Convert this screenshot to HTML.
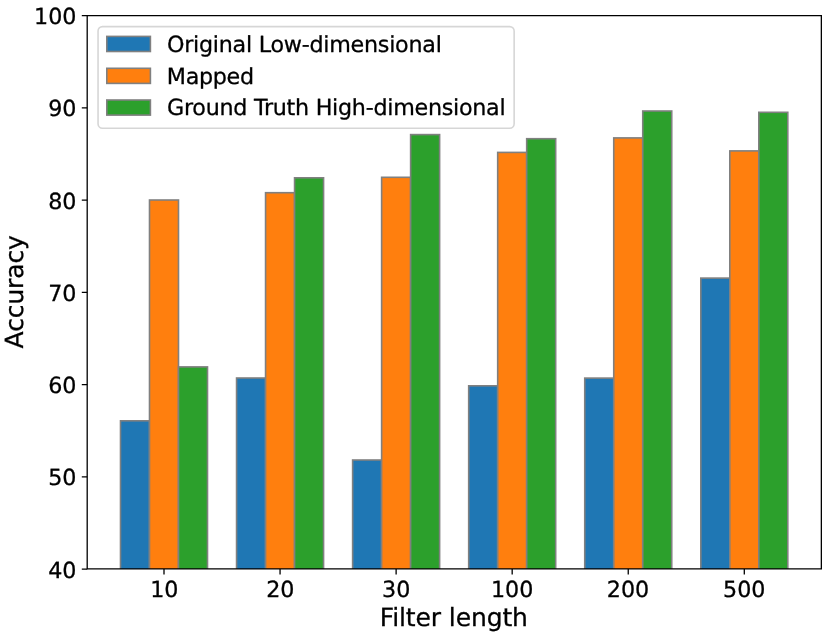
<!DOCTYPE html><html><head><meta charset="utf-8"><title>Accuracy vs Filter length</title><style>html,body{margin:0;padding:0;background:#fff;width:831px;height:636px;overflow:hidden}svg{display:block}text{font-family:'DejaVu Sans','Liberation Sans',sans-serif;fill:#000;text-rendering:geometricPrecision;stroke:#000;stroke-width:0.3px;}</style></head><body>
<svg width="831" height="636" viewBox="0 0 831 636">
<rect x="0" y="0" width="831" height="636" fill="#fff"/>
<defs><clipPath id="ax"><rect x="87.2" y="15.6" width="734.15" height="553.35"/></clipPath></defs>
<g clip-path="url(#ax)" stroke="#808080" stroke-width="1.6" stroke-linejoin="miter">
<rect x="120.50" y="420.80" width="29.00" height="158.15" fill="#1f77b4"/>
<rect x="236.56" y="378.00" width="29.00" height="200.95" fill="#1f77b4"/>
<rect x="352.62" y="460.00" width="29.00" height="118.95" fill="#1f77b4"/>
<rect x="468.68" y="385.80" width="29.00" height="193.15" fill="#1f77b4"/>
<rect x="584.74" y="378.10" width="29.00" height="200.85" fill="#1f77b4"/>
<rect x="700.80" y="278.10" width="29.00" height="300.85" fill="#1f77b4"/>
<rect x="149.50" y="200.00" width="29.00" height="378.95" fill="#ff7f0e"/>
<rect x="265.56" y="192.70" width="29.00" height="386.25" fill="#ff7f0e"/>
<rect x="381.62" y="177.30" width="29.00" height="401.65" fill="#ff7f0e"/>
<rect x="497.68" y="152.40" width="29.00" height="426.55" fill="#ff7f0e"/>
<rect x="613.74" y="137.90" width="29.00" height="441.05" fill="#ff7f0e"/>
<rect x="729.80" y="150.90" width="29.00" height="428.05" fill="#ff7f0e"/>
<rect x="178.50" y="366.90" width="29.00" height="212.05" fill="#2ca02c"/>
<rect x="294.56" y="177.80" width="29.00" height="401.15" fill="#2ca02c"/>
<rect x="410.62" y="134.60" width="29.00" height="444.35" fill="#2ca02c"/>
<rect x="526.68" y="138.70" width="29.00" height="440.25" fill="#2ca02c"/>
<rect x="642.74" y="111.00" width="29.00" height="467.95" fill="#2ca02c"/>
<rect x="758.80" y="112.30" width="29.00" height="466.65" fill="#2ca02c"/>
</g>
<g stroke="#000" stroke-width="1.3" fill="none" stroke-linecap="square">
<path d="M87.2 568.95V15.6M821.35 568.95V15.6M87.2 568.95H821.35M87.2 15.6H821.35"/>
<path stroke-linecap="butt" d="M81.8 569.05H87.2M81.8 476.80H87.2M81.8 384.55H87.2M81.8 292.30H87.2M81.8 200.05H87.2M81.8 107.80H87.2M81.8 15.55H87.2M164.00 568.95V574.4M280.06 568.95V574.4M396.12 568.95V574.4M512.18 568.95V574.4M628.24 568.95V574.4M744.30 568.95V574.4"/>
</g>
<rect x="98.05" y="26.6" width="416.1" height="101.7" rx="4.44" ry="4.44" fill="#fff" fill-opacity="0.8" stroke="#ccc" stroke-opacity="0.8" stroke-width="1.6"/>
<rect x="106.8" y="36.40" width="43.6" height="15.1" fill="#1f77b4" stroke="#808080" stroke-width="1.6"/>
<rect x="106.8" y="68.30" width="43.6" height="15.1" fill="#ff7f0e" stroke="#808080" stroke-width="1.6"/>
<rect x="106.8" y="100.00" width="43.6" height="15.1" fill="#2ca02c" stroke="#808080" stroke-width="1.6"/>
<text id="y40" font-size="22.222px" text-anchor="end" x="76.5" y="577.5">40</text>
<text id="y50" font-size="22.222px" text-anchor="end" x="76.5" y="485.25">50</text>
<text id="y60" font-size="22.222px" text-anchor="end" x="76.5" y="393.0">60</text>
<text id="y70" font-size="22.222px" text-anchor="end" x="76.5" y="300.75">70</text>
<text id="y80" font-size="22.222px" text-anchor="end" x="76.5" y="208.5">80</text>
<text id="y90" font-size="22.222px" text-anchor="end" x="76.5" y="116.25">90</text>
<text id="y100" font-size="22.222px" text-anchor="end" x="76.5" y="24.0">100</text>
<text id="x10" font-size="22.222px" text-anchor="middle" x="164.268" y="596.6">10</text>
<text id="x20" font-size="22.222px" text-anchor="middle" x="280.367" y="596.6">20</text>
<text id="x30" font-size="22.222px" text-anchor="middle" x="396.252" y="596.6">30</text>
<text id="x100" font-size="22.222px" text-anchor="middle" x="512.192" y="596.6">100</text>
<text id="x200" font-size="22.222px" text-anchor="middle" x="628.058" y="596.6">200</text>
<text id="x500" font-size="22.222px" text-anchor="middle" x="744.216" y="596.6">500</text>
<text id="FL" font-size="25px" text-anchor="middle" textLength="148.17" lengthAdjust="spacing" x="453.855" y="625.7">Filter length</text>
<text id="ACC" font-size="25px" text-anchor="middle" textLength="113.30" lengthAdjust="spacing" transform="translate(23.4 291.75) rotate(-90)">Accuracy</text>
<text id="L1" font-size="22.222px" textLength="274.89" lengthAdjust="spacing" x="166.936" y="51.9">Original Low-dimensional</text>
<text id="L2" font-size="22.222px" textLength="87.20" lengthAdjust="spacing" x="166.84" y="83.9">Mapped</text>
<text id="L3" font-size="22.222px" textLength="338.63" lengthAdjust="spacing" x="166.985" y="114.9">Ground Truth High-dimensional</text>
</svg></body></html>
